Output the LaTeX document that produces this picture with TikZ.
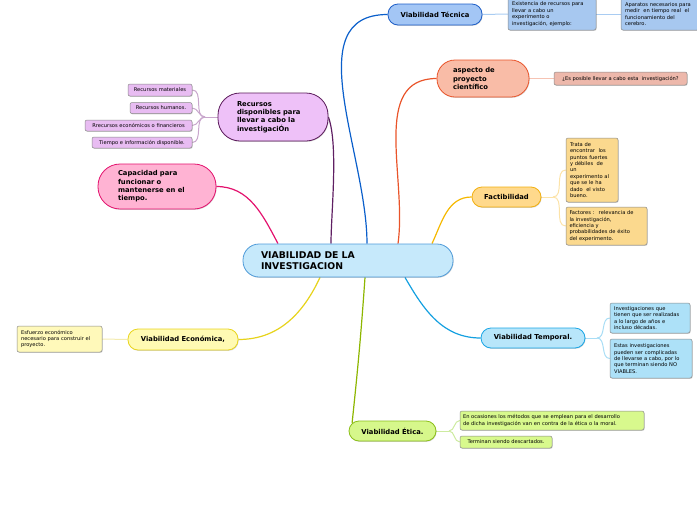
\documentclass[tikz,border=0pt]{standalone}
\usepackage{fontspec}
\setmainfont{DejaVu Sans}
\usetikzlibrary{calc,backgrounds,shadows}
\definecolor{hubF}{HTML}{C6E9FB}\definecolor{hubB}{HTML}{4F9BD9}
\definecolor{tF}{HTML}{A3C6F5}\definecolor{tB}{HTML}{1E5FC8}\definecolor{tL}{HTML}{0B5FCB}\definecolor{tLf}{HTML}{A7C8F0}\definecolor{tS}{HTML}{A9CCF2}
\definecolor{aF}{HTML}{F9BCA7}\definecolor{aB}{HTML}{E9542A}\definecolor{aLf}{HTML}{EDB8AB}\definecolor{aS}{HTML}{F6C3B3}
\definecolor{fF}{HTML}{FFD98C}\definecolor{fB}{HTML}{F2B010}\definecolor{fL}{HTML}{F5B800}\definecolor{fLf}{HTML}{FBD98E}\definecolor{fS}{HTML}{FCE3A8}
\definecolor{pF}{HTML}{B8E6FA}\definecolor{pB}{HTML}{1AA6E6}\definecolor{pL}{HTML}{14A0E0}\definecolor{pLf}{HTML}{ADE1F8}\definecolor{pS}{HTML}{A8DDF5}
\definecolor{eF}{HTML}{D6F78B}\definecolor{eB}{HTML}{8CBF1A}\definecolor{eL}{HTML}{8DB600}\definecolor{eLf}{HTML}{D8F98D}\definecolor{eS}{HTML}{CDEBA0}
\definecolor{cF}{HTML}{FFFAB3}\definecolor{cB}{HTML}{E9D51E}\definecolor{cL}{HTML}{E7D31B}\definecolor{cLf}{HTML}{FFF9BA}\definecolor{cS}{HTML}{F3EBB0}
\definecolor{rF}{HTML}{EEC1F8}\definecolor{rB}{HTML}{5A1A5A}\definecolor{rL}{HTML}{5F1F63}\definecolor{rLf}{HTML}{E8BCF2}\definecolor{rS}{HTML}{C8A6CC}
\definecolor{kF}{HTML}{FFB3D3}\definecolor{kB}{HTML}{E3116D}
\definecolor{leafgray}{HTML}{8A8A8A}
\tikzset{
  shad/.style={drop shadow={shadow xshift=0.6pt,shadow yshift=-0.8pt,fill=black,opacity=0.18}},
  hub/.style={draw=hubB, fill=hubF, line width=0.8pt, rounded corners=16pt,
    font=\fontsize{9.3}{10.8}\selectfont\bfseries, align=left, inner ysep=0pt, shad},
  branch/.style 2 args={draw=#1, fill=#2, line width=0.8pt, rounded corners=10pt,
    font=\fontsize{6.8}{8.3}\selectfont\bfseries, align=left, inner ysep=0pt, shad},
  leaf/.style={draw=leafgray, fill=#1, line width=0.5pt, rounded corners=2pt,
    font=\fontsize{5.15}{6.4}\selectfont, inner xsep=4pt, inner ysep=0pt, align=left, shad},
  mainline/.style={draw=#1, line width=1.2pt},
  subline/.style={draw=#1, line width=1pt},
}
\begin{document}
\begin{tikzpicture}[x=1pt,y=-1pt]
\useasboundingbox (0,0) rectangle (697,520);

% hub
\node[hub, minimum width=210pt, minimum height=33pt, text width=174pt, inner xsep=18pt] (C) at (348,260.5) {VIABILIDAD DE LA\\INVESTIGACION};

% Viabilidad Tecnica
\node[branch={tB}{tF}, minimum width=94pt, minimum height=21pt] (T) at (435,14.5) {Viabilidad Técnica};
\node[leaf=tLf, minimum width=88pt, minimum height=32pt, text width=80pt] (Ex) at (552,14) {Existencia de recursos para\\llevar a cabo un\\experimento o\\investigación, ejemplo:};
\node[leaf=tLf, minimum width=78pt, minimum height=32pt, text width=70pt] (Ap) at (660,14) {Aparatos necesarios para\\medir \ en tiempo real \ el\\funcionamiento del\\cerebro.};

% aspecto
\node[branch={aB}{aF}, rounded corners=18pt, minimum width=92pt, minimum height=37pt, text width=60pt, inner xsep=16pt] (Asp) at (483,78.5) {aspecto de\\proyecto\\científico};
\node[leaf=aLf, minimum width=133pt, minimum height=13pt] (Es) at (620.5,78.5) {¿Es posible llevar a cabo esta \ investigación?};

% Factibilidad
\node[branch={fB}{fF}, minimum width=69pt, minimum height=20pt] (F) at (506.5,197) {Factibilidad};
\node[leaf=fLf, minimum width=52pt, minimum height=64pt, text width=44pt] (Tr) at (592,170) {Trata de\\encontrar \ los\\puntos fuertes\\y débiles \ de\\un\\experimento al\\que se le ha\\dado \ el visto\\bueno.};
\node[leaf=fLf, minimum width=81pt, minimum height=38pt, text width=74pt, inner xsep=3.5pt] (Fa) at (606.5,226) {Factores : \ relevancia de\\la investigación,\\eficiencia y\\probabilidades de éxito\\del experimento.};

% Temporal
\node[branch={pB}{pF}, minimum width=104pt, minimum height=20pt] (Tp) at (533,338) {Viabilidad Temporal.};
\node[leaf=pLf, minimum width=80pt, minimum height=30pt, text width=72pt] (In) at (650,318) {Investigaciones que\\tienen que ser realizadas\\a lo largo de años e\\incluso décadas.};
\node[leaf=pLf, minimum width=82pt, minimum height=39pt, text width=74pt] (Est) at (651,358.5) {Estas investigaciones\\pueden ser complicadas\\de llevarse a cabo, por lo\\que terminan siendo NO\\VIABLES.};

% Etica
\node[branch={eB}{eF}, minimum width=87pt, minimum height=20pt] (Et) at (392.5,431) {Viabilidad Ética.};
\node[leaf=eLf, minimum width=184pt, minimum height=19pt, text width=178pt, inner xsep=3pt] (Oc) at (552,420.5) {En ocasiones los métodos que se emplean para el desarrollo\\de dicha investigación van en contra de la ética o la moral.};
\node[leaf=eLf, minimum width=92pt, minimum height=12pt] (Te) at (506,442) {Terminan siendo descartados.};

% Economica
\node[branch={cB}{cF}, minimum width=110pt, minimum height=21pt] (Ec) at (183,339.5) {Viabilidad Económica,};
\node[leaf=cLf, minimum width=85pt, minimum height=26pt, text width=77pt] (Esf) at (59.5,339) {Esfuerzo económico\\necesario para construir el\\proyecto.};

% Recursos
\node[branch={rB}{rF}, rounded corners=22pt, minimum width=110pt, minimum height=48pt, text width=72pt, inner xsep=19pt] (R) at (273,117) {Recursos\\disponibles para\\llevar a cabo la\\investigaciÓn};
\node[leaf=rLf, minimum width=64pt, minimum height=12pt] (rm) at (160,90) {Recursos materiales};
\node[leaf=rLf, minimum width=62pt, minimum height=11pt] (rh) at (161,108) {Recursos humanos.};
\node[leaf=rLf, minimum width=107pt, minimum height=11pt] (re) at (138.5,125.5) {Rrecursos económicos o financieros};
\node[leaf=rLf, minimum width=100pt, minimum height=11pt] (ti) at (142,142.5) {Tiempo e información disponible.};

% Capacidad
\node[branch={kB}{kF}, rounded corners=22pt, minimum width=118pt, minimum height=45pt, text width=78pt, inner xsep=20pt] (Cap) at (157,186.5) {Capacidad para\\funcionar o\\mantenerse en el\\tiempo.};

\begin{scope}[on background layer]
  % main connectors
  \draw[mainline=tL] ($(C.north)+(19,0)$) to[out=90,in=180] (T.west);
  \draw[mainline=aB] ($(C.north)+(50,0)$) to[out=82,in=180] (Asp.west);
  \draw[mainline=fL] ($(C.north)+(84,0)$) to[out=65,in=180] (F.west);
  \draw[mainline=rL] ($(C.north)+(-17,0)$) to[out=90,in=-70,looseness=0.6] (R.east);
  \draw[mainline=kB] ($(C.north)+(-70,0)$) to[out=118,in=0] (Cap.east);
  \draw[mainline=cL] ($(C.south)+(-28,0)$) to[out=-115,in=0] (Ec.east);
  \draw[mainline=eL] ($(C.south)+(17,0)$) to[out=-94,in=84] ($(Et.west)+(3.5,-8)$);
  \draw[mainline=pL] ($(C.south)+(57,0)$) to[out=-60,in=180] (Tp.west);
  % sub connectors
  \draw[subline=tS] (T.east) -- (Ex.west);
  \draw[subline=tS] (Ex.east) -- (Ap.west);
  \draw[subline=aS] (Asp.east) -- (Es.west);
  \draw[subline=cS] (Ec.west) -- (Esf.east);
  \coordinate (ff) at (553,197);
  \draw[subline=fS] (F.east) -- (ff);
  \draw[subline=fS] (ff) to[out=0,in=180] (Tr.west);
  \draw[subline=fS] (ff) to[out=0,in=180] (Fa.west);
  \coordinate (pf) at (597,338);
  \draw[subline=pS] (Tp.east) -- (pf);
  \draw[subline=pS] (pf) to[out=0,in=180] (In.west);
  \draw[subline=pS] (pf) to[out=0,in=180] (Est.west);
  \coordinate (ef) at (449,431);
  \draw[subline=eS] (Et.east) -- (ef);
  \draw[subline=eS] (ef) to[out=0,in=180] (Oc.west);
  \draw[subline=eS] (ef) to[out=0,in=180] (Te.west);
  \coordinate (rf) at (205,117);
  \draw[subline=rS] (R.west) -- (rf);
  \draw[subline=rS] (rf) to[out=180,in=0] (rm.east);
  \draw[subline=rS] (rf) to[out=180,in=0] (rh.east);
  \draw[subline=rS] (rf) to[out=180,in=0] (re.east);
  \draw[subline=rS] (rf) to[out=180,in=0] (ti.east);
\end{scope}
\end{tikzpicture}
\end{document}
